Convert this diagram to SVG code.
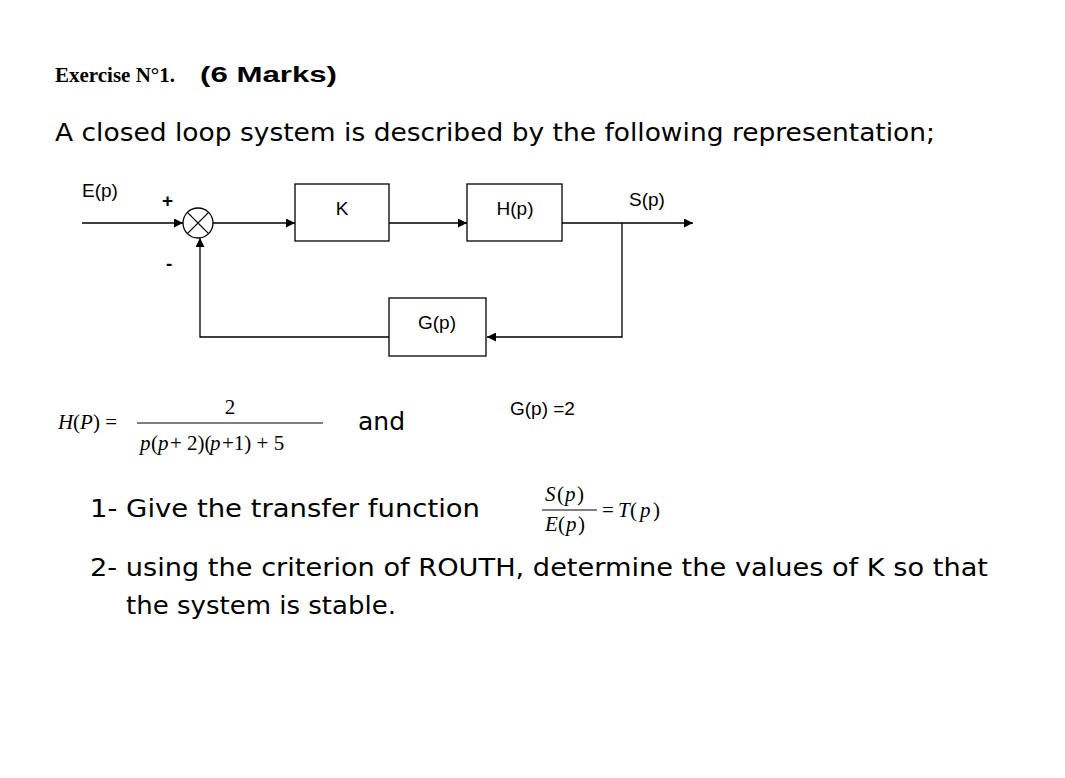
<svg xmlns="http://www.w3.org/2000/svg" width="1065" height="778" viewBox="0 0 1065 778">
<style>
.s{font-family:"Liberation Sans",Arial,sans-serif;font-size:19px;fill:#000}
.c{font-family:"DejaVu Sans","Liberation Sans",sans-serif;font-size:25px;fill:#000}
.m{font-family:"Liberation Serif","Times New Roman",serif;font-style:italic;font-size:21px;fill:#000}
.r{font-family:"Liberation Serif","Times New Roman",serif;font-size:21px;fill:#000}
.b{fill:#fff;stroke:#000;stroke-width:1.3}
.l{fill:none;stroke:#000;stroke-width:1.3}
</style>
<defs><marker id="a" viewBox="0 0 10 10" refX="10" refY="5" markerWidth="9" markerHeight="9" markerUnits="userSpaceOnUse" orient="auto"><path d="M0,0L10,5L0,10z" fill="#000"/></marker></defs>
<rect width="1065" height="778" fill="#fff"/>
<text x="55" y="82" font-family="Liberation Serif,serif" font-weight="bold" font-size="21">Exercise N°1.</text>
<text x="200" y="82" font-family="Liberation Sans Narrow,Liberation Sans,sans-serif" font-weight="bold" font-size="22" textLength="137" lengthAdjust="spacingAndGlyphs">(6  Marks)</text>
<text class="c" x="55" y="141" textLength="880" lengthAdjust="spacingAndGlyphs">A closed  loop  system is described by the following representation;</text>
<g id="connectors">
<path class="l" d="M82,223H183" marker-end="url(#a)"/>
<path class="l" d="M213,223H295" marker-end="url(#a)"/>
<path class="l" d="M389,223H467" marker-end="url(#a)"/>
<path class="l" d="M562,223H693" marker-end="url(#a)"/>
<path class="l" d="M622,223V337H487" marker-end="url(#a)"/>
<path class="l" d="M389,337H200V238" marker-end="url(#a)"/>
</g>
<g id="sum"><circle class="b" cx="198" cy="223" r="15"/><path class="l" d="M187.4,212.4L208.6,233.6M208.6,212.4L187.4,233.6"/></g>
<g id="K"><rect class="b" x="295" y="184" width="94" height="57"/><text class="s" x="342" y="215" text-anchor="middle">K</text></g>
<g id="H"><rect class="b" x="467" y="184" width="95" height="57"/><text class="s" x="515" y="215" text-anchor="middle">H(p)</text></g>
<g id="G"><rect class="b" x="389" y="298" width="97" height="58"/><text class="s" x="437" y="329" text-anchor="middle">G(p)</text></g>
<text class="s" x="82" y="197">E(p)</text>
<text class="s" x="629" y="206">S(p)</text>
<text class="s" x="162" y="207" font-weight="bold" font-size="15">+</text>
<text class="s" x="166" y="270" font-weight="bold" font-size="15">-</text>
<text class="m" x="58" y="429">H</text><text class="r" x="73" y="429">(</text><text class="m" x="80" y="429">P</text><text class="r" x="93" y="429">) =</text>
<line x1="137" y1="423" x2="323" y2="423" stroke="#000" stroke-width="1"/>
<text class="r" x="230" y="414" text-anchor="middle">2</text>
<text class="r" x="140" y="450" font-style="italic">p</text><text class="r" x="151" y="450">(</text><text class="m" x="158" y="450">p</text><text class="r" x="170" y="450">+ 2)(</text><text class="m" x="210" y="450">p</text><text class="r" x="222" y="450">+1) + 5</text>
<text class="c" x="358" y="430">and</text>
<text class="s" x="510" y="415" font-size="22">G(p) =2</text>
<text class="c" x="90" y="517" textLength="390" lengthAdjust="spacingAndGlyphs">1- Give the  transfer function</text>
<line x1="542" y1="510" x2="597" y2="510" stroke="#000" stroke-width="1"/>
<text class="m" x="545" y="501">S</text><text class="r" x="557" y="501">(</text><text class="m" x="565" y="501">p</text><text class="r" x="577" y="501">)</text>
<text class="m" x="545" y="531">E</text><text class="r" x="558" y="531">(</text><text class="m" x="566" y="531">p</text><text class="r" x="578" y="531">)</text>
<text class="r" x="602" y="517">=</text><text class="m" x="618" y="517">T</text><text class="r" x="630" y="517">(</text><text class="m" x="640" y="517">p</text><text class="r" x="653" y="517">)</text>
<text class="c" x="90" y="576" textLength="898" lengthAdjust="spacingAndGlyphs">2- using the criterion of ROUTH, determine the values of K so that</text>
<text class="c" x="126" y="614" textLength="270" lengthAdjust="spacingAndGlyphs">the system is stable.</text>
</svg>
